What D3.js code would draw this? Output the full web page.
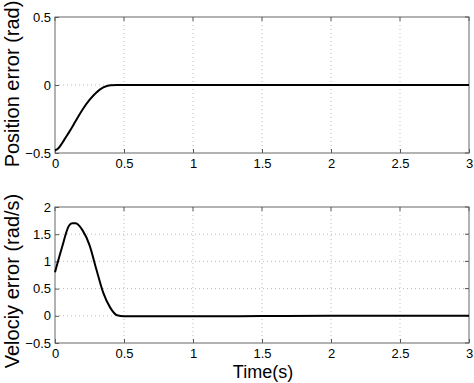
<!DOCTYPE html>
<html><head><meta charset="utf-8">
<script src="https://cdn.jsdelivr.net/npm/d3@7"></script>
<style>body{margin:0;background:#fff}svg{display:block}</style>
</head><body><svg id="c" width="474" height="383"></svg>
<script>
const timeTicks = [0, 0.5, 1, 1.5, 2, 2.5, 3];
const posTicks = [-0.5, 0, 0.5];
const velTicks = [-0.5, 0, 0.5, 1, 1.5, 2];
const posT = [0, 0.025, 0.05, 0.075, 0.1, 0.15, 0.2, 0.25, 0.3, 0.35, 0.4, 0.45, 1, 1.5, 2, 2.5, 3];
const posV = [-0.48, -0.465, -0.43, -0.39, -0.35, -0.265, -0.18, -0.11, -0.055, -0.018, -0.002, 0, 0, 0, 0, 0, 0];
const velT = [0, 0.05, 0.1, 0.125, 0.15, 0.2, 0.25, 0.3, 0.35, 0.4, 0.45, 0.5, 1, 1.5, 2, 2.5, 3];
const velV = [0.8, 1.25, 1.65, 1.7, 1.7, 1.57, 1.3, 0.85, 0.42, 0.15, 0.01, -0.01, -0.01, -0.005, 0, 0, 0];

const svg = d3.select("#c");
const x = d3.scaleLinear().domain([0, 3]).range([55, 469]);
const font = "Liberation Sans, Arial, sans-serif";

function panel(top, bottom, domain, ticks, T, V, label, labelCenter) {
  const y = d3.scaleLinear().domain(domain).range([bottom, top]);
  const g = svg.append("g");
  g.selectAll(".gx").data(timeTicks.slice(1, -1)).join("line")
    .attr("x1", d => x(d)).attr("x2", d => x(d)).attr("y1", top).attr("y2", bottom)
    .attr("stroke", "#bbb").attr("stroke-width", 1).attr("stroke-dasharray", "1,3");
  g.selectAll(".gy").data(ticks.slice(1, -1)).join("line")
    .attr("x1", x(0)).attr("x2", x(3)).attr("y1", d => y(d)).attr("y2", d => y(d))
    .attr("stroke", "#bbb").attr("stroke-width", 1).attr("stroke-dasharray", "1,3");
  const ax = g.append("g").attr("transform", `translate(0,${bottom})`)
    .call(d3.axisBottom(x).tickValues(timeTicks).tickSize(-4).tickPadding(6).tickFormat(d3.format("")));
  const ay = g.append("g").attr("transform", `translate(${x(0)},0)`)
    .call(d3.axisLeft(y).tickValues(ticks).tickSize(-4).tickPadding(4).tickFormat(d3.format("")));
  [ax, ay].forEach(a => {
    a.select(".domain").remove();
    a.selectAll("line").attr("stroke", "#555");
    a.selectAll("text").attr("font-family", font).attr("font-size", 13).attr("fill", "#000");
  });
  g.selectAll(".tt").data(timeTicks).join("line")
    .attr("x1", d => x(d)).attr("x2", d => x(d)).attr("y1", top).attr("y2", top + 4).attr("stroke", "#555");
  g.selectAll(".rt").data(ticks).join("line")
    .attr("x1", x(3)).attr("x2", x(3) - 4).attr("y1", d => y(d)).attr("y2", d => y(d)).attr("stroke", "#555");
  g.append("rect").attr("x", x(0)).attr("y", top).attr("width", x(3) - x(0)).attr("height", bottom - top)
    .attr("fill", "none").attr("stroke", "#666").attr("stroke-width", 1);
  const line = d3.line().x((d, i) => x(T[i])).y(d => y(d)).curve(d3.curveMonotoneX);
  g.append("path").attr("d", line(V)).attr("fill", "none").attr("stroke", "#000").attr("stroke-width", 2);
  g.append("text").attr("transform", `translate(19,${labelCenter}) rotate(-90)`)
    .attr("text-anchor", "middle").attr("font-family", font).attr("font-size", 20).text(label);
}
panel(17, 153, [-0.5, 0.5], posTicks, posT, posV, "Position error (rad)", 84);
panel(207, 343, [-0.5, 2], velTicks, velT, velV, "Velociy error (rad/s)", 281);
svg.append("text").attr("x", 263).attr("y", 378).attr("text-anchor", "middle")
  .attr("font-family", font).attr("font-size", 18).text("Time(s)");
</script></body></html>
